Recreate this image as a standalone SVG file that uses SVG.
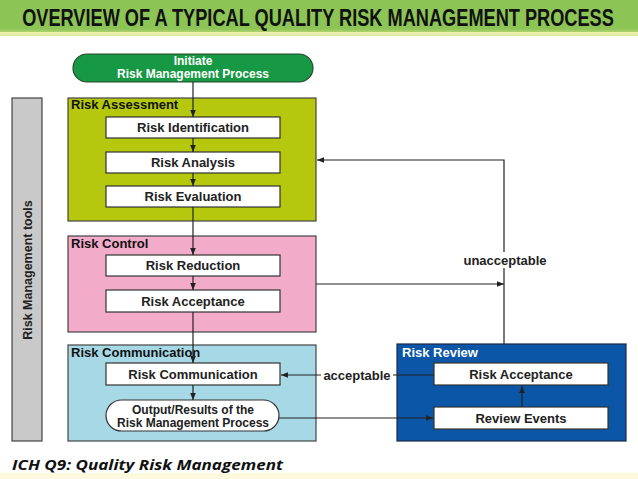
<svg xmlns="http://www.w3.org/2000/svg" width="638" height="479" viewBox="0 0 638 479">
<defs>
<linearGradient id="band" x1="0" y1="0" x2="0" y2="1">
<stop offset="0" stop-color="#8cc455"/>
<stop offset="0.8" stop-color="#8cc455"/>
<stop offset="1" stop-color="#d8e690"/>
</linearGradient>
<linearGradient id="fade" x1="0" y1="0" x2="0" y2="1">
<stop offset="0" stop-color="#f6f3a8"/>
<stop offset="1" stop-color="#ffffff" stop-opacity="0"/>
</linearGradient>
<marker id="ah" viewBox="0 0 10 10" refX="10" refY="5" markerWidth="7" markerHeight="7" orient="auto" markerUnits="userSpaceOnUse">
<path d="M0,1 L10,5 L0,9 z" fill="#222"/>
</marker>
<style>
.t{font-family:"Liberation Sans",Arial,sans-serif;font-weight:bold;}
.inner{fill:#fff;stroke:#333;stroke-width:1.2;}
.it{font-family:"Liberation Sans",Arial,sans-serif;font-weight:bold;font-size:13px;fill:#222;text-anchor:middle;}
.lbl{font-family:"Liberation Sans",Arial,sans-serif;font-weight:bold;font-size:13px;fill:#111;}
.ln{fill:none;stroke:#222;stroke-width:1.2;}
.grp{stroke:#444;stroke-width:1.2;}
</style>
</defs>
<rect x="0" y="0" width="638" height="479" fill="#fff"/>
<rect x="0" y="0" width="638" height="36" fill="url(#band)"/>
<rect x="0" y="32" width="638" height="5" fill="url(#fade)"/>
<text transform="translate(318,26) scale(0.75,1)" x="0" y="0" class="t" font-size="23" text-anchor="middle" textLength="789" lengthAdjust="spacingAndGlyphs" fill="#111">OVERVIEW OF A TYPICAL QUALITY RISK MANAGEMENT PROCESS</text>
<rect x="0" y="473" width="638" height="6" fill="#fdf9dc"/>

<g id="tools">
<rect x="12" y="98" width="30" height="343" fill="#c9c9c9" class="grp"/>
<text transform="translate(32,270) rotate(-90)" class="it" style="font-size:12.5px">Risk Management tools</text>
</g>

<g id="initiate">
<rect x="73" y="54" width="240" height="28" rx="14" fill="#169845" stroke="#2a4a2a" stroke-width="1.2"/>
<text x="193" y="64.5" class="it" style="fill:#fff;font-size:12px">Initiate</text>
<text x="193" y="77.5" class="it" style="fill:#fff;font-size:12px">Risk Management Process</text>
</g>

<g id="risk-assessment">
<rect x="68" y="98" width="248" height="123" fill="#b5c80e" class="grp"/>
<text x="71" y="108.5" class="lbl">Risk Assessment</text>
</g>
<g id="risk-identification"><rect x="106" y="117" width="174" height="21" class="inner"/><text x="193" y="132" class="it">Risk Identification</text></g>
<g id="risk-analysis"><rect x="106" y="152" width="174" height="21" class="inner"/><text x="193" y="167" class="it">Risk Analysis</text></g>
<g id="risk-evaluation"><rect x="106" y="186" width="174" height="21" class="inner"/><text x="193" y="201" class="it">Risk Evaluation</text></g>

<g id="risk-control">
<rect x="68" y="236" width="248" height="96" fill="#f3abca" class="grp"/>
<text x="71" y="248" class="lbl">Risk Control</text>
</g>
<g id="risk-reduction"><rect x="106" y="255" width="174" height="21" class="inner"/><text x="193" y="270" class="it">Risk Reduction</text></g>
<g id="risk-acceptance"><rect x="106" y="290" width="174" height="22" class="inner"/><text x="193" y="305.5" class="it">Risk Acceptance</text></g>

<g id="risk-communication-group">
<rect x="68" y="345" width="248" height="96" fill="#a6d8e6" class="grp"/>
<text x="71" y="357" class="lbl">Risk Communication</text>
</g>
<g id="risk-communication"><rect x="106" y="363" width="174" height="22" class="inner"/><text x="193" y="378.5" class="it">Risk Communication</text></g>
<g id="output"><rect x="106" y="400" width="173" height="31" rx="15.5" class="inner"/><text x="193" y="414" class="it" style="font-size:12px">Output/Results of the</text><text x="193" y="427" class="it" style="font-size:12px">Risk Management Process</text></g>

<g id="risk-review">
<rect x="397" y="344" width="229" height="97" fill="#0b56a6" stroke="#1a2a4a" stroke-width="1.2"/>
<text x="402" y="357" class="lbl" style="fill:#fff">Risk Review</text>
</g>
<g id="review-acceptance"><rect x="434" y="363" width="174" height="22" class="inner"/><text x="521" y="378.5" class="it">Risk Acceptance</text></g>
<g id="review-events"><rect x="434" y="407" width="174" height="22" class="inner"/><text x="521" y="422.5" class="it">Review Events</text></g>

<g id="connectors">
<line x1="193" y1="82" x2="193" y2="117" class="ln" marker-end="url(#ah)"/>
<line x1="193" y1="138" x2="193" y2="152" class="ln" marker-end="url(#ah)"/>
<line x1="193" y1="173" x2="193" y2="186" class="ln" marker-end="url(#ah)"/>
<line x1="193" y1="207" x2="193" y2="255" class="ln" marker-end="url(#ah)"/>
<line x1="193" y1="276" x2="193" y2="290" class="ln" marker-end="url(#ah)"/>
<line x1="193" y1="312" x2="193" y2="363" class="ln" marker-end="url(#ah)"/>
<line x1="193" y1="385" x2="193" y2="400" class="ln" marker-end="url(#ah)"/>
<polyline points="504,344 504,268" class="ln"/>
<polyline points="504,252 504,160 317,160" class="ln" marker-end="url(#ah)"/>
<text x="505" y="265" class="it">unacceptable</text>
<line x1="316" y1="284" x2="504" y2="284" class="ln" marker-end="url(#ah)"/>
<line x1="434" y1="375" x2="393" y2="375" class="ln"/>
<line x1="321" y1="375" x2="281" y2="375" class="ln" marker-end="url(#ah)"/>
<text x="357" y="379.5" class="it">acceptable</text>
<line x1="279" y1="418" x2="433" y2="418" class="ln" marker-end="url(#ah)"/>
<line x1="522" y1="407" x2="522" y2="386" class="ln" marker-end="url(#ah)"/>
</g>

<text x="12" y="470" font-family="'Open Sans','Liberation Sans',sans-serif" font-weight="bold" font-style="italic" font-size="15" fill="#111" textLength="271" lengthAdjust="spacingAndGlyphs">ICH Q9: Quality Risk Management</text>
</svg>
